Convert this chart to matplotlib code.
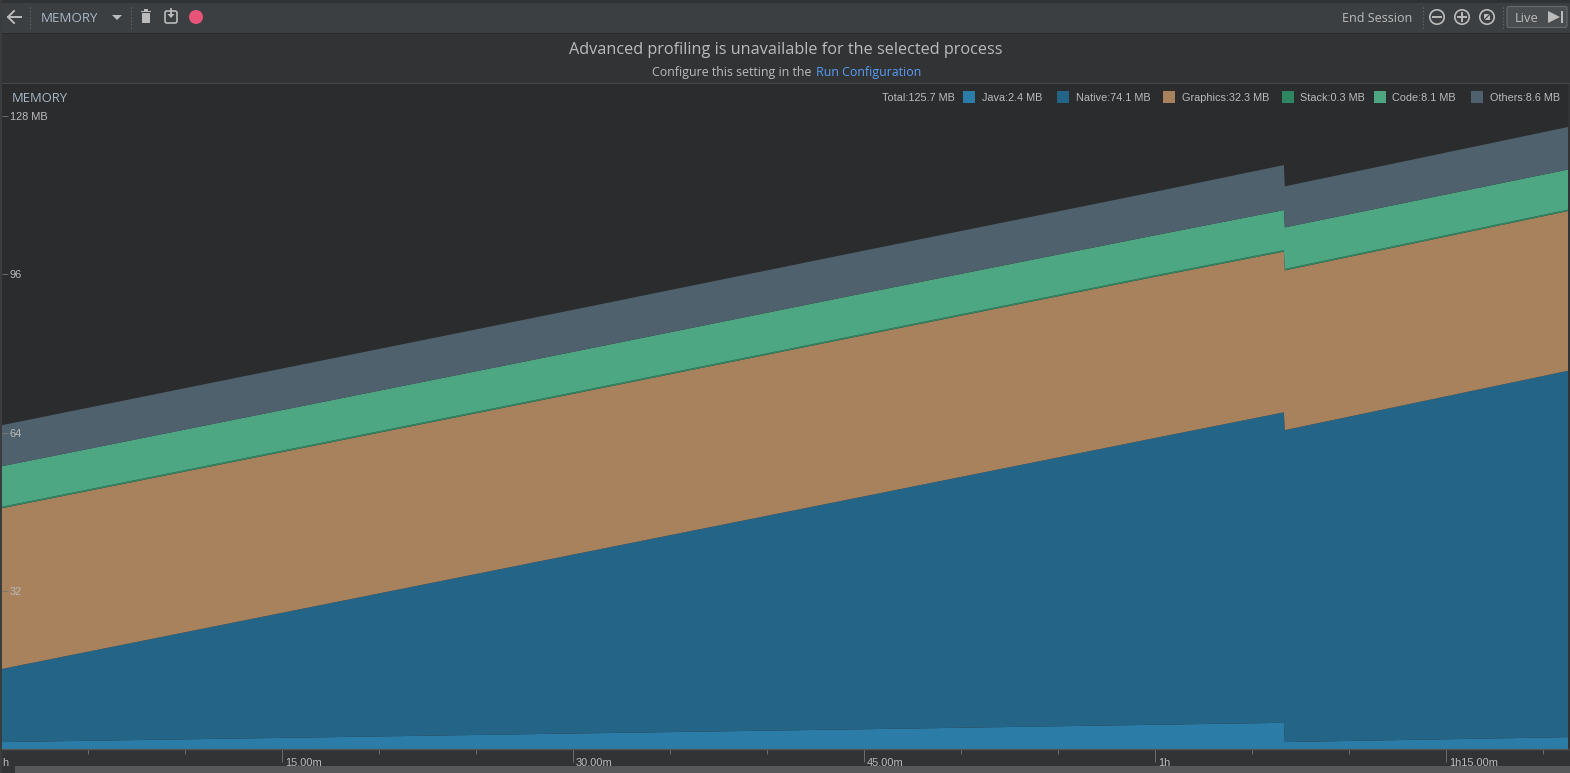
import matplotlib
matplotlib.use("Agg")
import matplotlib.pyplot as plt
from matplotlib.patches import Rectangle, Circle, FancyBboxPatch, Polygon

# ================= DATA (MB) =================
minutes = [0.55, 15, 30, 45, 60, 66.65, 66.7, 81.3]
java = [1.4, 2.25, 3.13, 4.0, 4.9, 5.3, 1.4, 2.4]
native = [14.8, 25.3, 36.2, 47.1, 58.0, 62.8, 63.1, 74.1]
graphics = [32.5, 32.5, 32.5, 32.6, 32.6, 32.5, 32.3, 32.3]
stack = [0.3, 0.3, 0.3, 0.3, 0.3, 0.3, 0.3, 0.3]
code = [8.2, 8.2, 8.2, 8.2, 8.1, 8.1, 8.4, 8.1]
others = [8.3, 8.4, 8.5, 8.6, 8.8, 9.1, 8.3, 8.6]

legend_names = ["Java", "Native", "Graphics", "Stack", "Code", "Others"]
legend_values = ["2.4 MB", "74.1 MB", "32.3 MB", "0.3 MB", "8.1 MB", "8.6 MB"]
total_label = "Total:125.7 MB"

y_ticks = [32, 64, 96, 128]
y_labels = ["32", "64", "96", "128 MB"]
x_major = [15, 30, 45, 60, 75]
x_labels = ["15.00m", "30.00m", "45.00m", "1h", "1h15.00m"]
x_minor = [5, 10, 20, 25, 35, 40, 50, 55, 65, 70, 80]

colors = ["#2b7ca6", "#236487", "#a8825c", "#2f8762", "#4da783", "#4e616c"]

W, H = 1570, 773
BG_CHART = "#2b2c2e"
BG_PANEL = "#313335"
BG_TOOL = "#3c3f41"
TXT = "#bbbbbb"
PX = 72 / 100  # one pixel in points at dpi=100

fig = plt.figure(figsize=(W / 100, H / 100), dpi=100, facecolor=BG_PANEL)

# ================= CHART =================
ax = fig.add_axes([2 / W, 1 - 749 / H, 1566 / W, 665 / H], facecolor=BG_CHART, zorder=1)
ax.stackplot(minutes, java, native, graphics, stack, code, others, colors=colors, linewidth=0)
for s in ["top", "right", "left"]:
    ax.spines[s].set_visible(False)
ax.spines["bottom"].set_color("#555759")
ax.spines["bottom"].set_linewidth(1.0)

ax.set_yticks(y_ticks)
ax.set_yticklabels(y_labels, fontsize=7.9, color=TXT, family="Liberation Sans", ha="left")
ax.tick_params(axis="y", direction="in", length=6 * PX, width=0.6, color="#777777", pad=-8 * PX)
ax.set_xticks(x_major)
ax.set_xticklabels([])
ax.set_xticks(x_minor, minor=True)
ax.tick_params(axis="x", which="major", length=13 * PX, width=0.6, color="#777777")
ax.tick_params(axis="x", which="minor", length=5 * PX, width=0.6, color="#777777")
ax.set_xlim(0.55, 81.3)
ax.set_ylim(0, 134.5)
for t, label in zip(x_major, x_labels):
    ax.annotate(label, (t, 0), xytext=(3 * PX, -13.5 * PX), textcoords="offset points",
                fontsize=7.9, color=TXT, family="Liberation Sans", va="center",
                annotation_clip=False)

# ================= WINDOW CHROME (pixel coordinates) =================
ov = fig.add_axes([0, 0, 1, 1], zorder=2)
ov.set_xlim(0, W)
ov.set_ylim(H, 0)
ov.axis("off")


def rect(x, y, w, h, c, **kw):
    ov.add_patch(Rectangle((x, y), w, h, facecolor=c, linewidth=0, **kw))


rect(0, 0, W, 3, "#2f3133")
rect(0, 3, W, 30, BG_TOOL)
rect(0, 33, W, 1, "#2a2b2c")
rect(0, 83, W, 1, "#45484a")
rect(0, 0, 2, H, "#3a3c3e")
rect(15, 766, W - 15, 7, "#565859")

# the 0h label is cut by the window edge, only its last letter shows
ov.text(2, 762.5, "h", fontsize=7.9, color=TXT, family="Liberation Sans", va="center")

for x in [30, 131, 1423, 1503]:
    ov.plot([x, x], [7, 29], color="#6a6d70", lw=0.8, ls=(0, (1, 2)))

# back arrow
ov.plot([8, 21], [17, 17], color=TXT, lw=1.4)
ov.plot([14, 8, 14], [11, 17, 23], color=TXT, lw=1.4)
ov.text(41, 18, "MEMORY", fontsize=9.6, color="#a9b7c6", family="Open Sans", va="center")
ov.add_patch(Polygon([[112, 15], [122, 15], [117, 20]], facecolor=TXT, linewidth=0))
# trash
rect(142, 13, 8, 10, TXT)
rect(141, 10.5, 10, 1.5, TXT)
rect(144, 9, 4, 1.5, TXT)
# save
ov.add_patch(FancyBboxPatch((165, 11), 12, 12, boxstyle="round,pad=0,rounding_size=2",
                            facecolor="none", edgecolor=TXT, lw=1.2))
ov.plot([171, 171], [9, 15], color=TXT, lw=1.3)
ov.add_patch(Polygon([[167.5, 14], [174.5, 14], [171, 18]], facecolor=TXT, linewidth=0))
# record
ov.add_patch(Circle((196, 17), 7, facecolor="#e8537a", linewidth=0))

ov.text(1342.5, 18, "End Session", fontsize=9, color=TXT, family="Open Sans", va="center")
for cx in [1437, 1462, 1487]:
    ov.add_patch(Circle((cx, 17), 7.2, facecolor="none", edgecolor=TXT, lw=1.2))
ov.plot([1433, 1441], [17, 17], color=TXT, lw=1.4)
ov.plot([1458, 1466], [17, 17], color=TXT, lw=1.4)
ov.plot([1462, 1462], [13, 21], color=TXT, lw=1.4)
ov.add_patch(Rectangle((1484, 14), 6, 6, facecolor=TXT, linewidth=0))
ov.plot([1484, 1490], [20, 14], color=BG_TOOL, lw=0.8)
ov.add_patch(FancyBboxPatch((1507, 6.5), 60, 21, boxstyle="round,pad=0,rounding_size=2",
                            facecolor="#4a4d4f", edgecolor="#666a6c", lw=0.8))
ov.text(1515, 18, "Live", fontsize=9.4, color=TXT, family="Open Sans", va="center")
ov.add_patch(Polygon([[1548, 11], [1548, 23], [1560, 17]], facecolor=TXT, linewidth=0))
rect(1561, 11, 2, 12, TXT)

# banner
ov.text(786, 49.5, "Advanced profiling is unavailable for the selected process", fontsize=11.7,
        color=TXT, family="Open Sans", ha="center", va="center")
ov.text(652, 72.5, "Configure this setting in the", fontsize=8.9, color=TXT, family="Open Sans", va="center")
ov.text(815.5, 72.5, "Run Configuration", fontsize=8.9, color="#589df6", family="Open Sans", va="center")

# legend
ov.text(12, 98, "MEMORY", fontsize=9.4, color="#a9b7c6", family="Open Sans", va="center")
ov.text(882, 98, total_label, fontsize=7.8, color=TXT, family="Liberation Sans", va="center")
swatch_x = [963, 1057, 1163, 1282, 1374, 1471]
for x, name, value, c in zip(swatch_x, legend_names, legend_values, colors):
    rect(x, 91, 12, 12, c)
    ov.text(x + 18.5, 98, f"{name}:{value}", fontsize=7.8, color=TXT, family="Liberation Sans", va="center")

fig.savefig("out.png", dpi=100, facecolor=fig.get_facecolor())
